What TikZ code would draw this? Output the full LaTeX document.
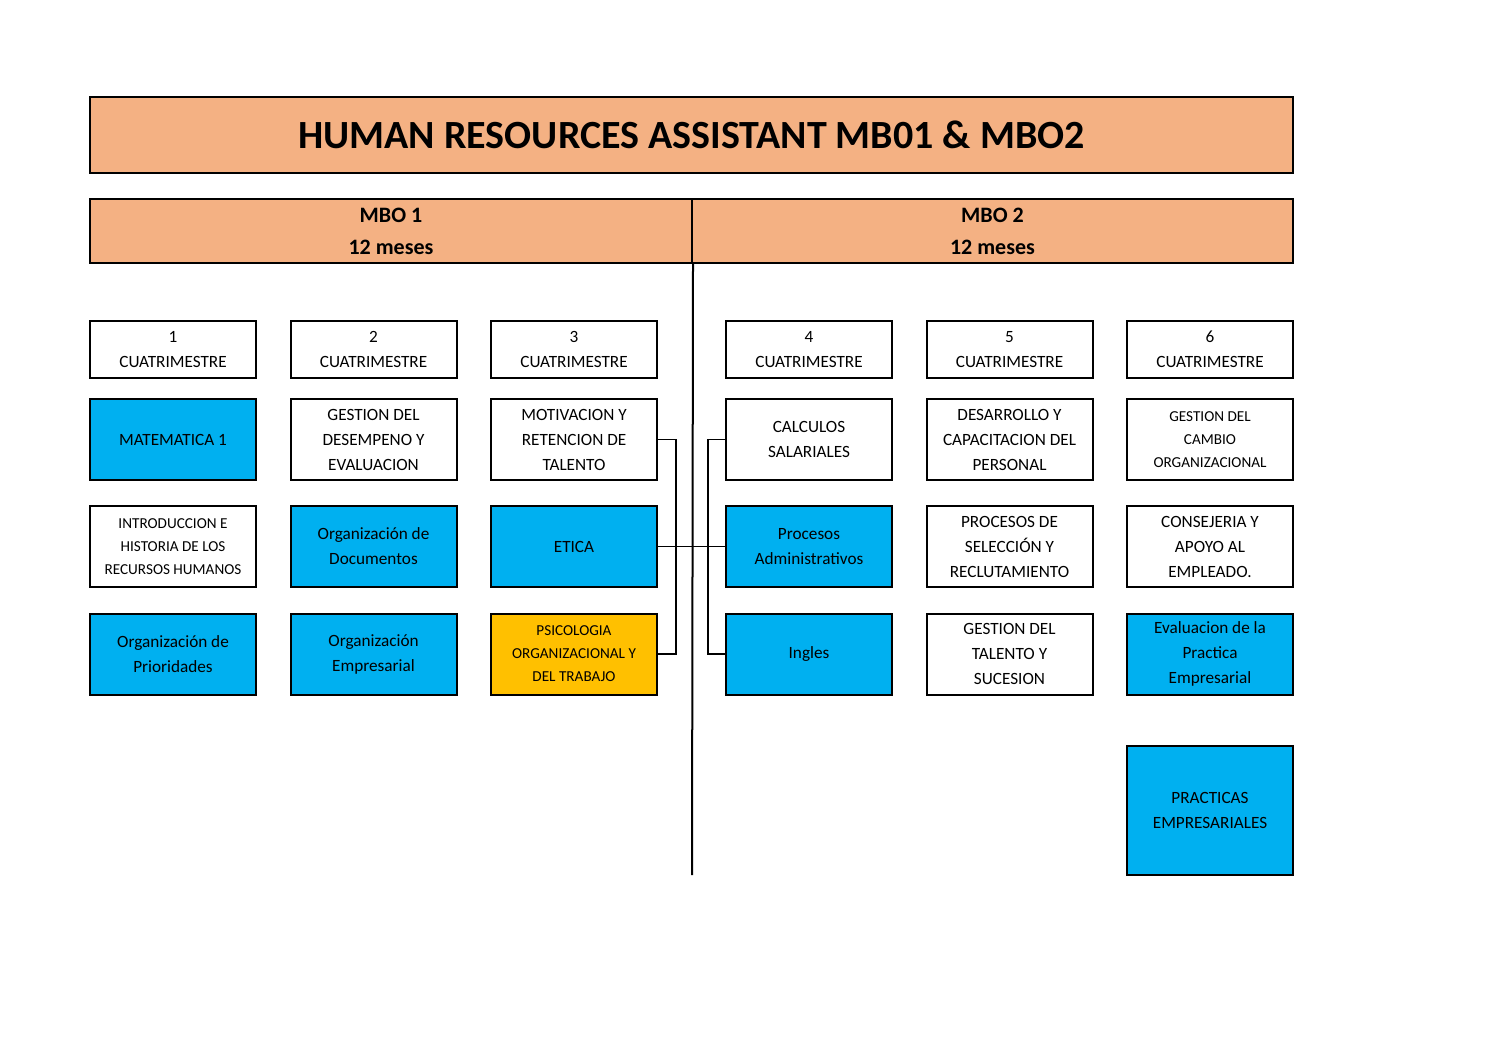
\documentclass[tikz,border=0pt]{standalone}
\usepackage{fontspec}
\setmainfont{Carlito}
\usetikzlibrary{positioning}
\definecolor{hdr}{HTML}{F4B183}
\definecolor{sky}{HTML}{00B0F0}
\definecolor{gold}{HTML}{FFC000}
\begin{document}
\begin{tikzpicture}[x=0.5pt,y=-0.5pt,line width=1pt,
box/.style={draw,rectangle,inner sep=1pt,minimum width=83pt,minimum height=40.5pt,align=center,font=\fontsize{8.6}{12.5}\selectfont},
head/.style={box,minimum height=28.5pt},
blue/.style={box,fill=sky},
gold/.style={box,fill=gold,font=\fontsize{7.6}{11.5}\selectfont},
small/.style={box,font=\fontsize{7.6}{11.5}\selectfont}]
\useasboundingbox (0,0) rectangle (1497,1058);

\node[draw,fill=hdr,minimum width=601.5pt,minimum height=38pt,font=\fontsize{20}{24}\bfseries\selectfont] (title) at (691.5,135) {HUMAN RESOURCES ASSISTANT MB01 \& MBO2};
\node[draw,fill=hdr,minimum width=301pt,minimum height=32pt,align=center,font=\fontsize{11}{16}\bfseries\selectfont] (m1) at (391,231) {MBO 1\\12 meses};
\node[draw,fill=hdr,minimum width=300.5pt,minimum height=32pt,align=center,font=\fontsize{11}{16}\bfseries\selectfont] (m2) at (992.5,231) {MBO 2\\12 meses};
\coordinate (divend) at (692,875);
\draw (m1.south east) -- (divend);

% cuatrimestres
\node[head] (c1) at (173,349.5) {1\\CUATRIMESTRE};
\node[head] (c2) at (373.5,349.5) {2\\CUATRIMESTRE};
\node[head] (c3) at (574,349.5) {3\\CUATRIMESTRE};
\node[head] (c4) at (809,349.5) {4\\CUATRIMESTRE};
\node[head] (c5) at (1009.5,349.5) {5\\CUATRIMESTRE};
\node[head] (c6) at (1210,349.5) {6\\CUATRIMESTRE};

% row 1
\node[blue] (a1) at (173,439.5) {MATEMATICA 1};
\node[box] (a2) at (373.5,439.5) {GESTION DEL\\DESEMPENO Y\\EVALUACION};
\node[box] (a3) at (574,439.5) {MOTIVACION Y\\RETENCION DE\\TALENTO};
\node[box] (a4) at (809,439.5) {CALCULOS\\SALARIALES};
\node[box] (a5) at (1009.5,439.5) {DESARROLLO Y\\CAPACITACION DEL\\PERSONAL};
\node[small] (a6) at (1210,439.5) {GESTION DEL\\CAMBIO\\ORGANIZACIONAL};

% row 2
\node[small] (b1) at (173,546.5) {INTRODUCCION E\\HISTORIA DE LOS\\RECURSOS HUMANOS};
\node[blue] (b2) at (373.5,546.5) {Organización de\\Documentos};
\node[blue] (b3) at (574,546.5) {ETICA};
\node[blue] (b4) at (809,546.5) {Procesos\\Administrativos};
\node[box] (b5) at (1009.5,546.5) {PROCESOS DE\\SELECCIÓN Y\\RECLUTAMIENTO};
\node[box] (b6) at (1210,546.5) {CONSEJERIA Y\\APOYO AL\\EMPLEADO.};

% row 3
\node[blue] (d1) at (173,654) {Organización de\\Prioridades};
\node[blue] (d2) at (373.5,654) {Organización\\Empresarial};
\node[gold] (d3) at (574,654) {PSICOLOGIA\\ORGANIZACIONAL Y\\DEL TRABAJO};
\node[blue] (d4) at (809,654) {Ingles};
\node[box] (d5) at (1009.5,654) {GESTION DEL\\TALENTO Y\\SUCESION};
\node[blue] (d6) at (1210,654) {Evaluacion de la\\Practica\\Empresarial};

\node[blue,minimum height=64.5pt] (p6) at (1210,810.5) {PRACTICAS\\EMPRESARIALES};

% connectors
\draw[line width=0.7pt] (a3.east) -- ++(18,0) |- (d3.east);
\draw[line width=0.7pt] (a4.west) -- ++(-17,0) |- (d4.west);
\draw[line width=0.7pt] (b3.east) -- (b4.west);
\end{tikzpicture}
\end{document}
